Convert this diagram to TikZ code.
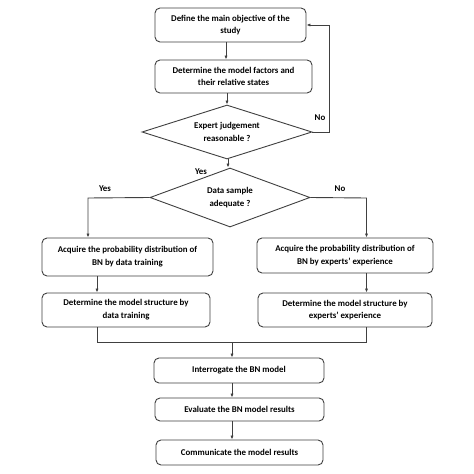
\documentclass[tikz,border=0pt]{standalone}
\usepackage{fontspec}
\setmainfont{Carlito}
\usetikzlibrary{shapes.geometric,arrows.meta}
\tikzset{
  box/.style={draw=black!75, line width=0.9bp, rounded corners=5bp, align=center, inner sep=1bp,
    font=\fontsize{8.9}{12.8}\selectfont\bfseries},
  dia/.style={draw=black!75, line width=0.9bp, diamond, align=center, inner sep=0pt,
    font=\fontsize{8.9}{12.8}\selectfont\bfseries},
  arr/.style={draw=black!75, line width=0.9bp, -{Latex[length=4bp,width=3.2bp]}},
  ln/.style={draw=black!75, line width=0.9bp},
  lab/.style={font=\fontsize{8.9}{10}\selectfont\bfseries, inner sep=0pt}
}
\begin{document}
\begin{tikzpicture}[x=1bp,y=-1bp]
\useasboundingbox[fill=white] (0,0) rectangle (474,474);
\node[box, minimum width=151bp, minimum height=34bp] (b1) at (230.5,25) {Define the main objective of the\\study};
\node[box, minimum width=157bp, minimum height=33bp] (b2) at (233.5,76.5) {Determine the model factors and\\their relative states};
\node[dia, shape aspect=3.1, minimum width=170bp, minimum height=54bp] (d1) at (227,132) {Expert judgement\\reasonable ?};
\node[dia, shape aspect=2.7, minimum width=160bp, minimum height=59bp] (d2) at (230,197.5) {Data sample\\adequate ?};
\node[box, minimum width=171bp, minimum height=38bp] (b3l) at (127.5,257) {Acquire the probability distribution of\\BN by data training};
\node[box, minimum width=168bp, minimum height=34bp] (b4l) at (126,310) {Determine the model structure by\\data training};
\node[box, minimum width=176bp, minimum height=35bp] (b3r) at (345,255.5) {Acquire the probability distribution of\\BN by experts' experience};
\node[box, minimum width=174bp, minimum height=34bp] (b4r) at (345,310) {Determine the model structure by\\experts' experience};
\node[box, minimum width=170bp, minimum height=25bp] (b5) at (239,370.5) {Interrogate the BN model};
\node[box, minimum width=169bp, minimum height=23bp] (b6) at (239.5,409.5) {Evaluate the BN model results};
\node[box, minimum width=167bp, minimum height=25bp] (b7) at (239.5,452.5) {Communicate the model results};

\coordinate (fb) at (329,0);
\coordinate (lx) at (88,198);
\coordinate (lx2) at (97,0);
\coordinate (rx) at (366.5,198);
\coordinate (mx) at (232,342);

\draw[arr] (b1.south -| 226,0) -- (b2.north -| 226,0);
\draw[arr] (b2.south -| d1) -- (d1.north);
\draw[arr] (d1.south -| 228,0) -- (d2.north -| 228,0);
\draw[arr] (d1.east) -- (fb |- d1.east) -- (fb |- b1.east) -- (b1.east);
\draw[arr] (d2.west) -- (lx) -- (lx |- b3l.north);
\draw[arr] (d2.east) -- (rx) -- (rx |- b3r.north);
\draw[arr] (b3l.south -| lx2) -- (b4l.north -| lx2);
\draw[arr] (b3r.south -| rx) -- (b4r.north -| rx);
\draw[ln] (b4l.south -| lx2) -- (lx2 |- mx) -- (rx |- mx) -- (b4r.south -| rx);
\draw[arr] (mx) -- (b5.north -| mx);
\draw[arr] (b5.south -| mx) -- (b6.north -| mx);
\draw[arr] (b6.south -| mx) -- (b7.north -| mx);

\node[lab] (no1) at (320,118) {No};
\node[lab] (yes1) at (201,172) {Yes};
\node[lab] (yes2) at (105,189) {Yes};
\node[lab] (no2) at (340,189) {No};
\end{tikzpicture}
\end{document}
